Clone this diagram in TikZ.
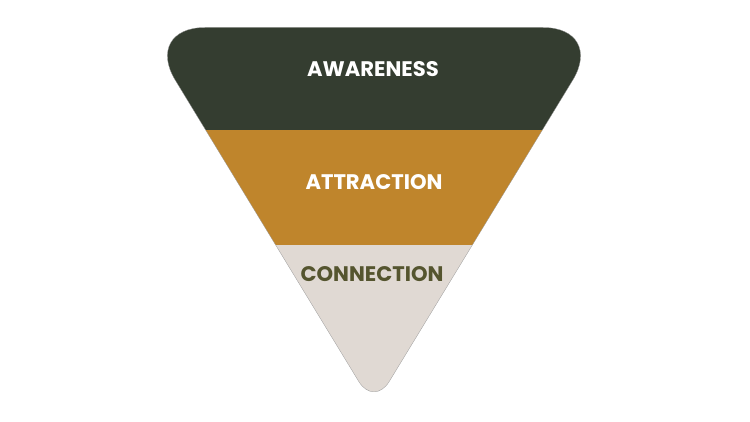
\documentclass[tikz,border=0pt]{standalone}
\usepackage{fontspec}
\setmainfont{Poppins}
\usetikzlibrary{calc}
\definecolor{awarecol}{HTML}{343D30}
\definecolor{attractcol}{HTML}{BF852C}
\definecolor{connectcol}{HTML}{E0D9D3}
\definecolor{oliveink}{HTML}{55552F}
% outline of the funnel, corners rounded
\newcommand{\funnelpath}{(M) [rounded corners=1.85cm] -- (B) -- (P1)
    [rounded corners=0.88cm] -- (C) -- (P2)
    [rounded corners=1.85cm] -- (A) -- cycle}
\begin{document}
\begin{tikzpicture}[
    x=0.03cm, y=-0.03cm,
    line join=round,
    stage/.style={font=\bfseries\fontsize{18}{22}\selectfont, anchor=center}
]
\useasboundingbox (0,0) rectangle (750,422);

\coordinate (A) at (143.2,27.5);
\coordinate (B) at (604.8,27.5);
\coordinate (C) at (374,406.5);
\coordinate (M) at (374,27.5);
\coordinate (P1) at ($(B)!0.5!(C)$);
\coordinate (P2) at ($(C)!0.5!(A)$);

\begin{scope}
\clip \funnelpath;
\fill[awarecol]   (100,0) rectangle (650,129.5);
\fill[attractcol] (100,129.5) rectangle (650,244.5);
\fill[connectcol] (100,244.5) rectangle (650,422);
\end{scope}
\draw[line width=0.25pt, black!40] \funnelpath;

\node[stage, text=white]    (aware)   at (373,69)  {AWARENESS};
\node[stage, text=white]    (attract) at (374,182) {ATTRACTION};
\node[stage, text=oliveink] (connect) at (372,274) {CONNECTION};
\end{tikzpicture}
\end{document}
